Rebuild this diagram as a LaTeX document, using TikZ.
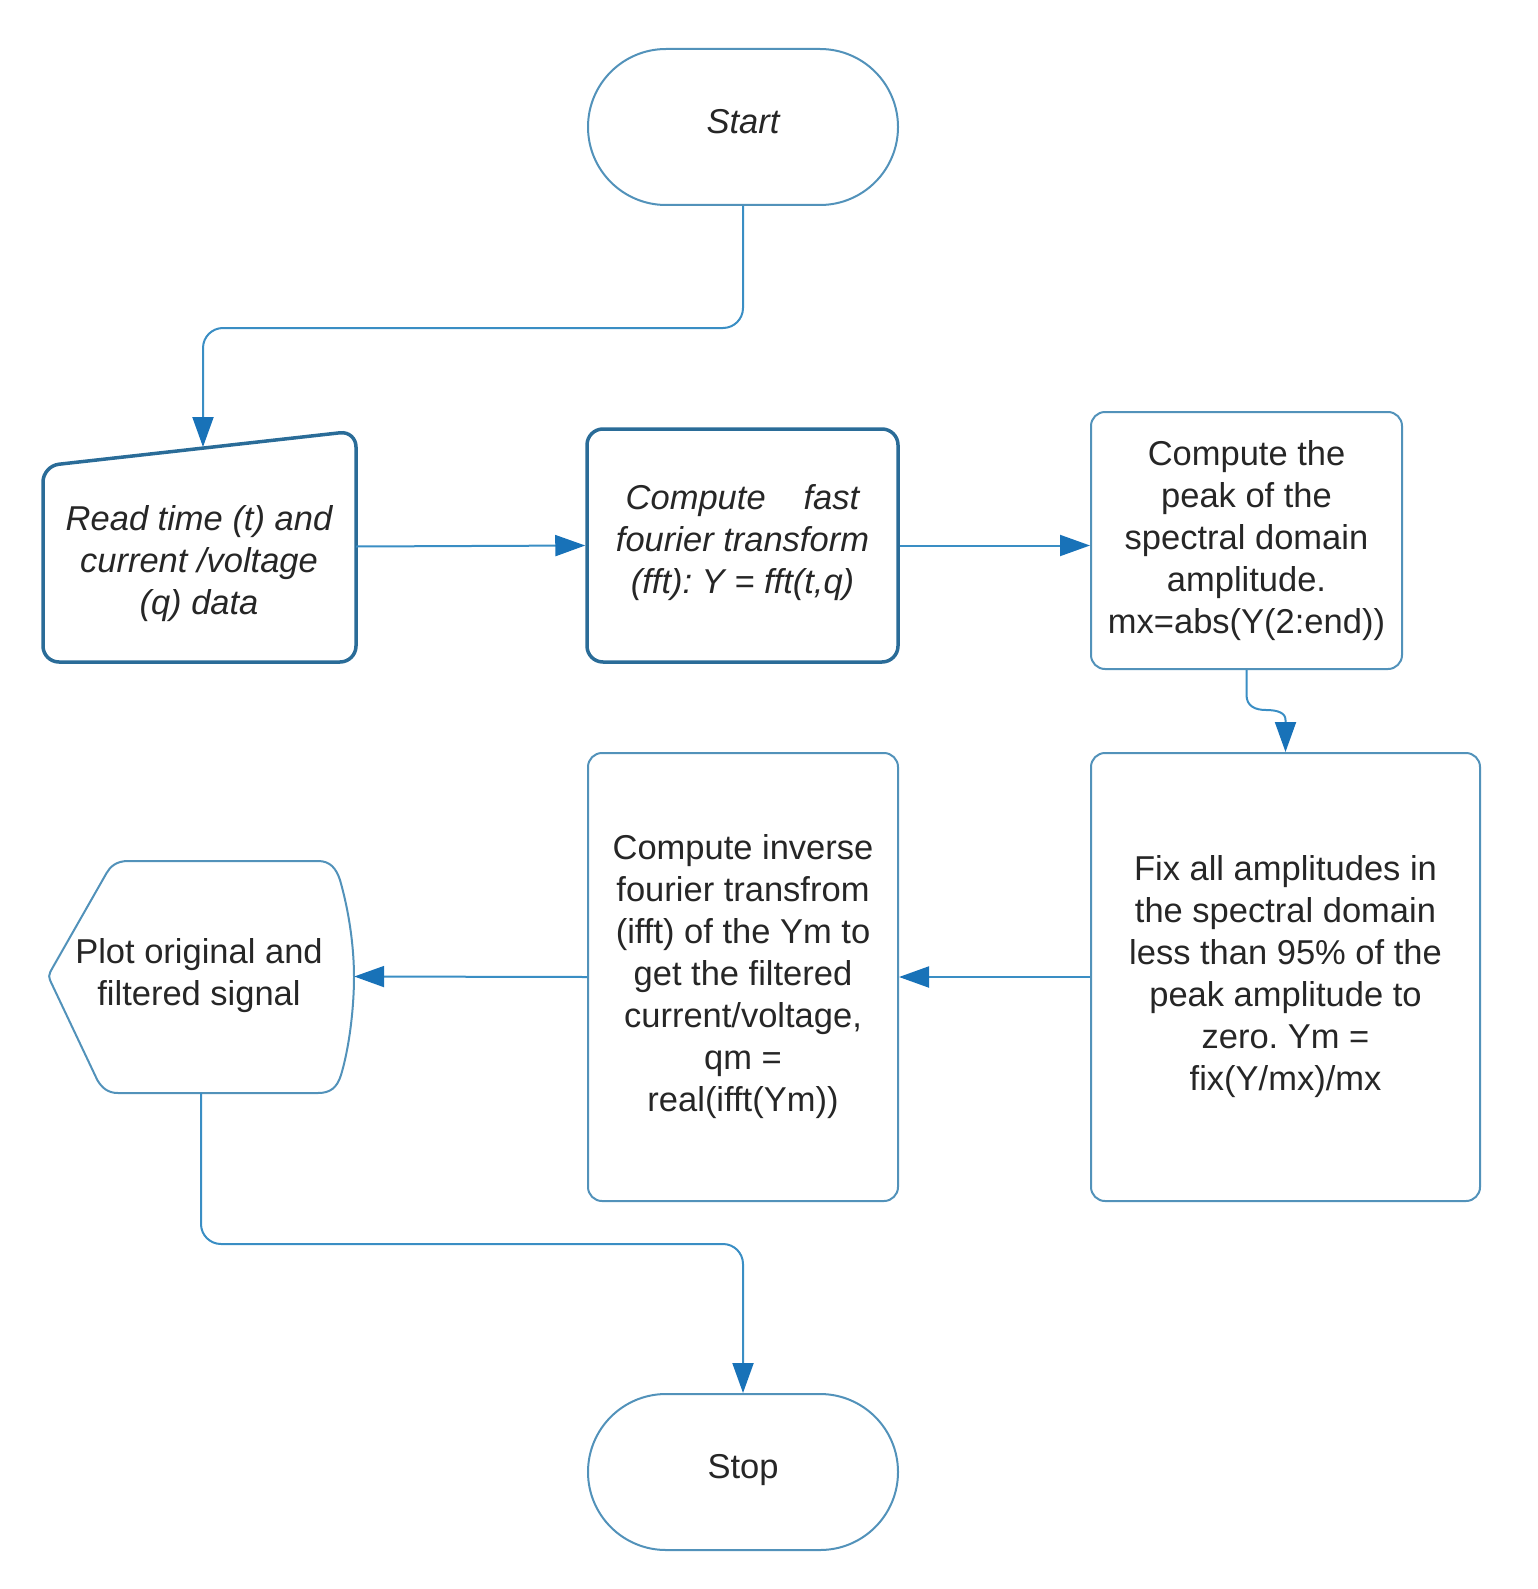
\documentclass[tikz,border=0pt]{standalone}
\usepackage{fontspec}
\setmainfont{Liberation Sans}
\usetikzlibrary{arrows.meta}
\definecolor{bdark}{RGB}{42,108,152}
\definecolor{blight}{RGB}{82,146,186}
\definecolor{conncol}{RGB}{58,142,196}
\definecolor{tipcol}{RGB}{24,114,184}
\frenchspacing
\begin{document}
\begin{tikzpicture}[x=1pt,y=-1pt,
  every node/.style={font=\fontsize{34.5}{42}\selectfont\frenchspacing, align=center, inner sep=0pt, text=black!85},
  term/.style={draw=blight, line width=2pt, rounded corners=78pt, minimum width=310pt, minimum height=156pt},
  procbox/.style={draw=blight, line width=2pt, rounded corners=14pt},
  heavybox/.style={draw=bdark, line width=3.5pt, rounded corners=16pt},
  ghost/.style={draw=none},
  outline/.style={draw=bdark, line width=3.5pt},
  outlinelight/.style={draw=blight, line width=2pt},
  flow/.style={draw=conncol, line width=2pt, rounded corners=20pt,
    -{Triangle[length=30pt,width=21pt,fill=tipcol,color=tipcol]}}]
\useasboundingbox (0,0) rectangle (1537,1589);

% Start
\node[term] (start) at (743,127) {};
\node at (743,122) {\itshape Start};

% Input (manual input shape)
\node[ghost, minimum width=313pt, minimum height=231pt] (in) at (199.5,546.5) {};
\draw[outline, rounded corners=16pt] (200,662) -- (43,662) -- (43,466) -- (356,431) -- (356,662) -- cycle;
\node at (199,564) {\itshape Read time (t) and\\\itshape current /voltage\\\itshape (q) data};
\coordinate (intop) at (203,447);

% FFT
\node[heavybox, minimum width=311pt, minimum height=233pt] (fft) at (742.5,545.5) {};
\node at (742.5,543) {\itshape Compute\hspace{1.1em}fast\\\itshape fourier transform\\\itshape (fft): Y = fft(t,q)};

% Peak
\node[procbox, minimum width=311pt, minimum height=257pt] (peak) at (1246.5,540.5) {Compute the\\peak of the\\spectral domain\\amplitude.\\mx=abs(Y(2:end))};

% Fix
\node[procbox, minimum width=389pt, minimum height=448pt] (fix) at (1285.5,977) {Fix all amplitudes in\\the spectral domain\\less than 95\% of the\\peak amplitude to\\zero. Ym =\\fix(Y/mx)/mx};

% Inverse
\node[procbox, minimum width=310pt, minimum height=448pt] (inv) at (743,977) {Compute inverse\\fourier transfrom\\(ifft) of the Ym to\\get the filtered\\current/voltage,\\qm =\\real(ifft(Ym))};

% Plot (display shape)
\node[ghost, minimum width=306pt, minimum height=233pt] (plot) at (201,976.5) {};
\draw[outlinelight] (200,1093) -- (118,1093) .. controls (108,1093) and (102,1088) .. (97.3,1080)
  -- (52.3,985) .. controls (48,976) and (48,976) .. (53,967)
  -- (106.6,873) .. controls (110,867) and (116,861) .. (128,861)
  -- (318,861)
  .. controls (330,861) and (336,868) .. (340,880)
  .. controls (350,915) and (354,950) .. (354,977)
  .. controls (354,1005) and (350,1045) .. (341,1075)
  .. controls (337,1088) and (330,1093) .. (318,1093) -- cycle;
\node at (199,976) {Plot original and\\filtered signal};

% Stop
\node[term] (stop) at (743,1472) {};
\node at (743,1470) {Stop};

% Connectors
\coordinate (j1) at (473,328);
\draw[flow] (start.south) |- (j1) -| (intop);
\draw[flow] (in.east) -- (fft.west);
\draw[flow] (fft.east) -- (fft.east -| peak.west);
\draw[flow, rounded corners=0pt] (peak.south) -- (1246.5,695) .. controls (1246.5,706) and (1255,710) .. (1266,710) .. controls (1278,710) and (1285.5,713) .. (1285.5,720) -- (fix.north);
\draw[flow] (fix.west) -- (inv.east);
\draw[flow] (inv.west) -- (plot.east);
\coordinate (j2) at (470,1244);
\draw[flow] (plot.south) |- (j2) -| (stop.north);
\end{tikzpicture}
\end{document}
